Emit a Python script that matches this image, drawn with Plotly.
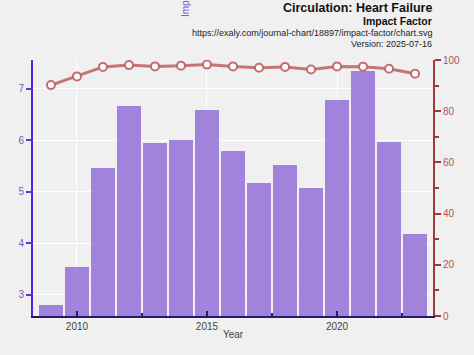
import plotly.graph_objects as go

years = list(range(2009, 2024))
impact_factor = [2.80, 3.55, 5.46, 6.66, 5.94, 6.00, 6.59, 5.79, 5.18, 5.53, 5.08, 6.79, 7.35, 5.96, 4.19]
percentile = [90.2, 93.6, 97.3, 98.0, 97.5, 97.8, 98.2, 97.5, 97.0, 97.3, 96.3, 97.5, 97.4, 96.6, 94.6]

title = "Circulation: Heart Failure"
subtitle = "Impact Factor"
url = "https://exaly.com/journal-chart/18897/impact-factor/chart.svg"
version = "Version: 2025-07-16"

fig = go.Figure()
fig.add_trace(go.Bar(
    x=years, y=impact_factor, width=0.9,
    marker=dict(color="rgba(147,112,219,0.85)", line=dict(width=0)),
    yaxis="y", showlegend=False,
))
fig.add_trace(go.Scatter(
    x=years, y=percentile, yaxis="y2", mode="lines+markers",
    line=dict(color="rgba(190,95,95,0.85)", width=3),
    marker=dict(size=8, color="white", line=dict(color="rgba(190,95,95,0.9)", width=2)),
    showlegend=False,
))

font = "Liberation Sans, Arial, sans-serif"
fig.update_layout(
    width=474, height=355,
    margin=dict(l=33, r=41, t=60, b=39, autoexpand=False),
    paper_bgcolor="#f0f0f0", plot_bgcolor="#f0f0f0",
    font=dict(family=font, size=10, color="#333"),
    bargap=0,
    xaxis=dict(
        range=[2008.31, 2023.69], tickmode="linear", tick0=2010, dtick=5,
        ticks="inside", ticklen=5, tickcolor="#222266", tickwidth=1.5,
        minor=dict(dtick=2.5, tick0=2010, ticks="inside", ticklen=3, tickcolor="#222266", showgrid=False),
        showgrid=True, gridcolor="white", gridwidth=1.2,
        showline=True, linecolor="#2a1a6e", linewidth=2,
        tickfont=dict(size=10, color="#444"),
        title=dict(text="Year", font=dict(size=10, color="#444"), standoff=0),
        zeroline=False,
    ),
    yaxis=dict(
        range=[2.59, 7.56], tickmode="linear", tick0=3, dtick=1,
        ticks="outside", ticklen=5, tickcolor="#6633dd", tickwidth=1.5,
        showgrid=True, gridcolor="white", gridwidth=1.2,
        showline=True, linecolor="#5522dd", linewidth=2,
        tickfont=dict(size=10, color="#7755cc"),
        zeroline=False,
    ),
    yaxis2=dict(
        range=[0, 100], overlaying="y", side="right", tickmode="linear", tick0=0, dtick=20,
        ticks="outside", ticklen=6, tickcolor="#a03a3a", tickwidth=1.5,
        minor=dict(dtick=10, ticks="outside", ticklen=4, tickcolor="#a03a3a", showgrid=False),
        showgrid=False, showline=True, linecolor="#a03a3a", linewidth=2,
        tickfont=dict(size=10, color="#b05555"),
        zeroline=False,
    ),
)

anns = [
    dict(text="<b>" + title + "</b>", size=12.5, y=8, color="#111"),
    dict(text="<b>" + subtitle + "</b>", size=10.5, y=20.5, color="#111"),
    dict(text=url, size=9, y=33, color="#222"),
    dict(text=version, size=9, y=44, color="#222"),
]
for a in anns:
    fig.add_annotation(
        text=a["text"], xref="paper", yref="paper",
        x=1.0, xanchor="right", y=1 + (60 - a["y"]) / 256, yanchor="middle",
        showarrow=False, borderpad=0,
        font=dict(size=a["size"], color=a["color"], family=font),
    )
fig.add_annotation(
    text="Impact Factor", xref="paper", yref="paper", x=(185 - 33) / 400, xanchor="center",
    y=1 + (60 - 18) / 256, yanchor="bottom", textangle=-90, showarrow=False, borderpad=0,
    font=dict(size=10, color="#7755cc", family=font),
)

fig.write_html("out.html", config={"displayModeBar": False})
with open("out.html", "r", encoding="utf-8") as f:
    html = f.read()
html = html.replace("<body>", "<body style=\"margin:0;background:#f0f0f0\">", 1)
with open("out.html", "w", encoding="utf-8") as f:
    f.write(html)
